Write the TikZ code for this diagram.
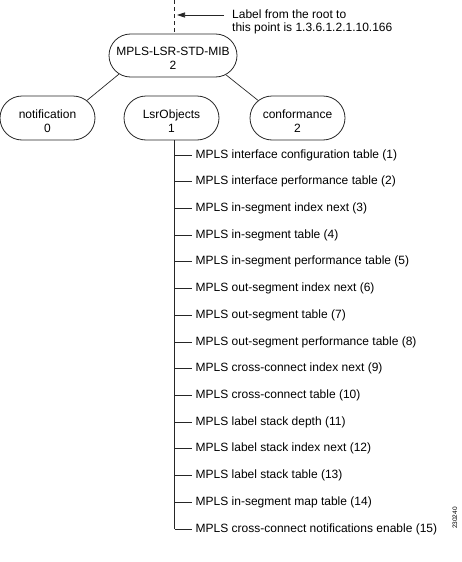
\documentclass[tikz,border=0pt]{standalone}
\usepackage{fontspec}
\setmainfont{Liberation Sans}
\usetikzlibrary{shapes.misc,arrows.meta}
\newcommand{\lowr}{\rule{0pt}{14.5pt}}
\begin{document}
\begin{tikzpicture}[x=1pt,y=-1pt,
  mib/.style={draw=black!85, line width=0.8pt, rounded rectangle, minimum height=44pt, inner sep=0pt, align=center, font=\fontsize{12}{13.8}\selectfont},
  conn/.style={line width=0.7pt, draw=black!85},
  item/.style={anchor=west, inner sep=0pt, font=\fontsize{12}{13}\selectfont},
  note/.style={anchor=west, inner sep=0pt, align=left, font=\fontsize{12}{13.5}\selectfont}]
\useasboundingbox (0,0) rectangle (462,562);
\node[mib, minimum width=128pt, minimum height=43pt] (root) at (173,55.5) {\lowr MPLS-LSR-STD-MIB\\2};
\node[mib, minimum width=95pt] (notif) at (47.5,118) {\lowr notification\\0};
\node[mib, minimum width=95pt] (lso) at (171.5,118) {\lowr LsrObjects\\1};
\node[mib, minimum width=95pt] (conf) at (297.5,118) {\lowr conformance\\2};
\coordinate (top) at (174,0);
\coordinate (spine) at (174.5,0);
\draw[conn, dash pattern=on 4pt off 3pt] (top) -- (root.north -| top);
\coordinate (arrS) at (224,15);
\coordinate (arrE) at (177,15);
\draw[conn, -{Triangle[length=8pt,width=5pt]}] (arrS) -- (arrE);
\node[note] (lbl) at (232,22) {Label from the root to\\this point is 1.3.6.1.2.1.10.166};
\draw[conn] (root.199) -- (notif.24);
\draw[conn] (root.340) -- (conf.156);
\foreach \t [count=\i] in {
  MPLS interface configuration table (1),
  MPLS interface performance table (2),
  MPLS in-segment index next (3),
  MPLS in-segment table (4),
  MPLS in-segment performance table (5),
  MPLS out-segment index next (6),
  MPLS out-segment table (7),
  MPLS out-segment performance table (8),
  MPLS cross-connect index next (9),
  MPLS cross-connect table (10),
  MPLS label stack depth (11),
  MPLS label stack index next (12),
  MPLS label stack table (13),
  MPLS in-segment map table (14),
  MPLS cross-connect notifications enable (15)} {
  \node[item] (it\i) at (195.5,{155+(\i-1)*26.71}) {\t};
  \draw[conn] (spine |- it\i.west) -- ([xshift=-4pt]it\i.west);
}
\draw[conn] (lso.south -| spine) -- (spine |- it15.west);
\node[inner sep=0pt, rotate=90, font=\fontsize{6.5}{7}\selectfont] (code) at (455,518) {230240};
\end{tikzpicture}
\end{document}
